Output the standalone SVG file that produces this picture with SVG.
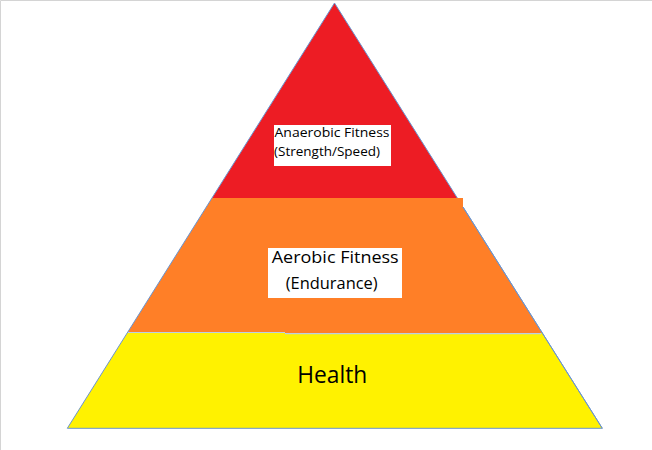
<svg xmlns="http://www.w3.org/2000/svg" width="652" height="450" viewBox="0 0 652 450">
  <style>
    .lbl { font-family: "Open Sans", "Noto Sans", "Liberation Sans", sans-serif; fill: #000; }
    .box { fill: #FFFFFF; }
    .edge { fill: none; stroke: #6A94CF; stroke-width: 1; }
    .seam { fill: none; stroke: #B9CFE6; stroke-width: 1.2; }
  </style>
  <rect x="0" y="0" width="652" height="450" fill="#FFFFFF"/>
  <path d="M0.5,450 V0.5 H652" fill="none" stroke="#D4D4D4" stroke-width="1"/>

  <g id="layer-anaerobic">
    <polygon points="334.5,3 457.3,198 212,198" fill="#ED1C24"/>
    <rect class="box" x="274" y="125" width="117" height="41"/>
    <text class="lbl" x="274.5" y="137" font-size="13" textLength="115" lengthAdjust="spacingAndGlyphs">Anaerobic Fitness</text>
    <text class="lbl" x="274" y="156" font-size="13" textLength="106" lengthAdjust="spacingAndGlyphs">(Strength/Speed)</text>
  </g>

  <g id="layer-aerobic">
    <polygon points="212,198 463,198 463,207 542.3,333 127.2,333" fill="#FF7F27"/>
    <rect class="box" x="268" y="248" width="134" height="50"/>
    <text class="lbl" x="271.7" y="263" font-size="17" textLength="127" lengthAdjust="spacingAndGlyphs">Aerobic Fitness</text>
    <text class="lbl" x="285.7" y="289" font-size="16" textLength="92" lengthAdjust="spacingAndGlyphs">(Endurance)</text>
  </g>

  <g id="layer-health">
    <polygon points="127.2,333 542.3,333 602.3,428.3 67.3,428.3" fill="#FFF200"/>
    <text class="lbl" x="297.3" y="383" font-size="23" textLength="70" lengthAdjust="spacingAndGlyphs">Health</text>
  </g>

  <g id="outline">
    <path class="seam" d="M128,332.5 H285 M285,333.6 H541"/>
    <path class="edge" d="M67.3,428.3 L334.5,3 L457.3,198 M463,207 L602.3,428.3 Z"/>
    <path class="edge" d="M67.3,428.3 H602.3"/>
  </g>
</svg>
